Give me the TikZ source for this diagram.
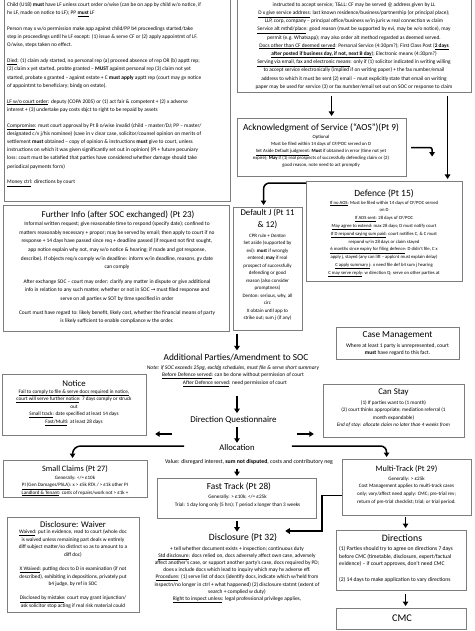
\documentclass[tikz,border=0pt]{standalone}
\usepackage{fontspec}
\setmainfont{Carlito}
\newfontfamily\dejavu{DejaVu Sans}
\usetikzlibrary{arrows.meta}
\definecolor{framegray}{RGB}{125,125,125}
\newcommand{\uln}[1]{\underline{#1}}
\newcommand{\fs}[2]{\fontsize{#1}{#2}\selectfont}
\begin{document}
\begin{tikzpicture}[x=1pt,y=-1pt,
  frame/.style={draw=framegray, line width=1.1pt, anchor=north west, inner sep=0pt},
  txt/.style={inner sep=0pt, align=center, anchor=north},
  txtl/.style={inner sep=0pt, align=left, anchor=north west},
  hd/.style={inner sep=0pt, anchor=center, font=\fs{8.8}{10}},
  arr/.style={line width=1.5pt, -{Triangle[length=4.5pt,width=5.5pt]}},
]
\useasboundingbox (0,0) rectangle (474,631);
\fill[white] (0,0) rectangle (474,631);
\coordinate (spine) at (237,0);

% ---------- frames ----------
\node[frame, minimum width=226pt, minimum height=203pt] (tl) at (4,-2) {};
\node[frame, minimum width=234pt, minimum height=94pt] (tr) at (237,-2) {};
\node[frame, minimum width=169pt, minimum height=58pt] (aos) at (237,118) {};
\node[frame, minimum width=156pt, minimum height=100pt] (defence) at (306,181) {};
\node[frame, minimum width=69pt, minimum height=123pt] (dj) at (233,207) {};
\node[frame, minimum width=226pt, minimum height=126pt] (fi) at (3,205) {};
\node[frame, minimum width=123pt, minimum height=32pt] (cm) at (336,327) {};
\node[frame, minimum width=144pt, minimum height=61pt] (notice) at (2,374) {};
\node[frame, minimum width=141pt, minimum height=53pt] (canstay) at (323,384) {};
\node[frame, minimum width=144pt, minimum height=37pt] (small) at (3,460) {};
\node[frame, minimum width=159pt, minimum height=40pt] (fast) at (157,478) {};
\node[frame, minimum width=129pt, minimum height=56pt] (multi) at (342,459) {};
\node[frame, minimum width=132pt, minimum height=95pt] (waiver) at (7,517) {};
\node[frame, minimum width=130pt, minimum height=60pt] (directions) at (336,530) {};
\node[frame, minimum width=130pt, minimum height=21pt] (cmc) at (336,608) {};

% ---------- top left ----------
\node[txtl, font=\fs{5.4}{8.2}] (tl-t) at (7,2.3) {%
Child (U18) \textbf{must} have LF unless court order o/wise (can be on app by child w/o notice, if\\
hv LF, made on notice to LF); PP \textbf{\uln{must}} LF\\[7.6pt]
Person may x w/o permission make app against child/PP b4 proceedings started/take\\
step in proceedings until hv LF except: (1) issue \& serve CF or (2) apply appointmt of LF.\\
O/wise, steps taken no effect.\\[7.6pt]
\uln{Died}: (1) claim ady started, no personal rep (a) proceed absence of rep OR (b) apptt rep;\\
(2) claim x yet started, probte granted -- \textbf{MUST} against personal rep (3) claim not yet\\
started, probate x granted -- against estate + C \textbf{must apply} apptt rep (court may gv notice\\
of appointmt to beneficiary; bindg on estate).\\[7.6pt]
\uln{LF w/o court order}: deputy (COPA 2005) or (1) act fair \& competent + (2) x adverse\\
interest + (3) undertake pay costs sbjct to right to be repaid by assets\\[7.6pt]
\uln{Compromise}: must court approval by Pt 8 o/wise invalid (child -- master/DJ; PP -- master/\\
designated c/v j/his nominee) (save in v clear case, solicitor/counsel opinion on merits of\\
settlement \textbf{must} obtained -- copy of opinion \& instructions \textbf{must} give to court, unless\\
instructions on which it was given significantly set out in opinion) (PI + future pecuniary\\
loss: court must be satisfied that parties have considered whether damage should take\\
periodical payments form)\\[7.6pt]
\uln{Money ctrl}: directions by court};

% ---------- top right ----------
\node[txt, font=\fs{5.35}{8.2}] (tr-t) at (354,2.3) {%
instructed to accept service; T\&LL: CF may be served @ address given by LL\\
\uln{D x give service address}: last known residence/business/partnership (or principal place);\\
LLP, corp, company -- principal office/business w/in juris w real connection w claim\\
\uln{Service alt mthd/place}: good reason (must be supported by evi, may be w/o notice), may\\
permit (e.g. Whatsapp); may also order alt method regarded as deemed served.\\
\uln{Docs other than CF deemed served}: Personal Service (4:30pm?); First Class Post (\textbf{\uln{2 days}}\\
\textbf{\uln{after posted if business day, if not, next B day}}); Electronic means (4:30pm?)\\
\uln{Serving via email, fax and electronic means}: only if (1) solicitor indicated in writing willing\\
to accept service electronically (implied if on writing paper) + the fax number/email\\
address to which it must be sent (2) email -- must explicitly state that email on writing\\
paper may be used for service (3) or fax number/email set out on SOC or response to claim};

% ---------- AOS ----------
\node[hd, font=\fs{9.3}{10}] (aos-h) at (321,128) {Acknowledgment of Service (``AOS'')(Pt 9)};
\node[txt, font=\fs{4.8}{7.2}] (aos-t) at (321,134.6) {%
Optional\\
Must be filed within 14 days of CF/POC served on D\\
\uln{Set Aside Default judgment}: \textbf{Must} if obtained in error (time not yet\\
expire); \textbf{May} if (1) real prospects of successfully defending claim or (2)\\
good reason, note need to act promptly};

% ---------- Defence ----------
\node[hd, font=\fs{9.5}{10}] (def-h) at (384,194) {Defence (Pt 15)};
\node[txt, font=\fs{4.7}{7.8}] (def-t) at (384,200.6) {%
\uln{If no AOS}: Must be filed within 14 days of CF/POC served\\
on D\\
\uln{If AOS sent}: 28 days of CF/POC\\
\uln{May agree to extend}: max 28 days; D must notify court\\
\uln{If D respond saying sum paid}: court notifies C, \& C must\\
respond w/in 28 days or claim stayed\\
\uln{6 months since expiry for filing defence}: D didn't file, C x\\
apply j, stayed (any can lift -- applcnt must explain delay)\\
\uln{C apply summary j}: x need file def b4 sum j hearing\\
\uln{C may serve reply}: w direction Q; serve on other parties at};

% ---------- Default J ----------
\node[txt, font=\fs{8.8}{12}] (dj-h) at (267.5,209) {Default J (Pt 11\\ \& 12)};
\node[txt, font=\fs{5}{7.5}] (dj-t) at (267.5,233.5) {%
CPR rule + \textit{Denton}\\
Set aside (supported by\\
evi): \textbf{must} if wrongly\\
entered; \textbf{may} if real\\
prospect of successfully\\
defending or good\\
reason (also consider\\
promptness)\\
Denton: serious, why, all\\
circ\\
X obtain until app to\\
strike out; sum j (if any)};

% ---------- Further info ----------
\node[hd, font=\fs{9}{10}] (fi-h) at (118,215) {Further Info (after SOC exchanged) (Pt 23)};
\node[txt, font=\fs{5.4}{8.6}] (fi-t) at (117,221.6) {%
Informal written request; give reasonable time to respond (specify date); confined to\\
matters reasonably necessary + propor; may be served by email; then apply to court if no\\
response + 14 days have passed since req + deadline passed (if request not first sought,\\
app notice explain why not, may w/o notice \& hearing; if made and got response,\\
describe). If objects req/x comply w/in deadline: inform w/in deadline, reasons, gv date\\
can comply\\[6pt]
After exchange SOC -- court may order: clarify any matter in dispute or give additional\\
info in relation to any such matter, whether or not in SOC {\dejavu →} must filed response and\\
serve on all parties w SOT by time specified in order\\[5pt]
Court must have regard to: likely benefit, likely cost, whether the financial means of party\\
is likely sufficient to enable compliance w the order.};

% ---------- Case management ----------
\node[hd, font=\fs{9.2}{10}] (cm-h) at (397.5,335) {Case Management};
\node[txt, font=\fs{5.5}{7}] (cm-t) at (397.5,343.3) {%
Where at least 1 party is unrepresented, court\\
\textbf{must} have regard to this fact.};

% ---------- Notice ----------
\node[hd] (no-h) at (74,383) {Notice};
\node[txt, font=\fs{5.2}{7.5}] (no-t) at (74,389.4) {%
\uln{Fail to comply to file \& serve docs required in notice,}\\
\uln{court will serve further notice}: 7 days comply or struck\\
out\\
\uln{Small track}: date specified at least 14 days\\
\uln{Fast/Multi}: at least 28 days};

% ---------- Can stay ----------
\node[hd] (cs-h) at (393.5,392) {Can Stay};
\node[txt, font=\fs{5.2}{7.5}] (cs-t) at (393.5,400.4) {%
(1) If parties want to (1 month)\\
(2) court thinks appropriate; mediation referral (1\\
month expandable)\\
\textit{End of stay: allocate claim no later than 4 weeks from}};

% ---------- centre column ----------
\node[hd, font=\fs{9.3}{10}] (ap) at (236,357) {Additional Parties/Amendment to SOC};
\node[inner sep=0pt, font=\fs{5.5}{7}] (apnote) at (233,368) {\textit{Note: if SOC exceeds 25pg, excldg schedules, must file \& serve short summary}};
\node[inner sep=0pt, font=\fs{5.4}{7}] (apbefore) at (233,376) {\uln{Before Defence served}: can be done without permission of court};
\node[inner sep=0pt, font=\fs{5.4}{7}] (apafter) at (235,383.5) {\uln{After Defence served}: need permission of court};
\node[hd, font=\fs{8.9}{10}] (dq) at (233.5,420) {Direction Questionnaire};
\node[hd, font=\fs{8.7}{10}] (alloc) at (237,448) {Allocation};
\node[inner sep=0pt, font=\fs{5.8}{7}] (value) at (249,462) {Value: disregard interest, \textbf{sum not disputed}, costs and contributory neg};

% ---------- Small claims ----------
\node[hd, font=\fs{8.2}{10}] (sc-h) at (75,469) {Small Claims (Pt 27)};
\node[txt, font=\fs{5}{7.5}] (sc-t) at (75,475.5) {%
Generally: </= £10k\\
\uln{PI (Gen Damages/PSLA)}: x > £5k RTA / > £1k other PI\\
\uln{Landlord \& Tenant}: costs of repairs/work not > £1k +};

% ---------- Fast track ----------
\node[hd, font=\fs{9.3}{10}] (ft-h) at (239,487) {Fast Track (Pt 28)};
\node[txt, font=\fs{5.2}{8}] (ft-t) at (237.5,494.4) {%
Generally: > £10k; </= £25k\\
Trial: 1 day long only (5 hrs); T period x longer than 3 weeks};

% ---------- Multi track ----------
\node[hd, font=\fs{8.2}{10}] (mt-h) at (406.5,469) {Multi-Track (Pt 29)};
\node[txt, font=\fs{5.1}{7.7}] (mt-t) at (406.5,476.5) {%
Generally: > £25k\\
Cost Management applies to multi-track cases\\
only; vary/affect need apply: CMC; pre-trial rev;\\
return of pre-trial checklist; trial; or trial period.};

% ---------- Waiver ----------
\node[hd, font=\fs{8.7}{10}] (wv-h) at (73,525) {Disclosure: Waiver};
\node[txt, font=\fs{5.3}{7.7}] (wv-t) at (73,529.4) {%
\uln{Waived}: put in evidence, read to court (whole doc\\
is waived unless remaining part deals w entirely\\
diff subject matter/so distinct so as to amount to a\\
diff doc)\\[6.3pt]
\uln{X Waived}: putting docs to D in examination (if not\\
described), exhibiting in depositions, privately put\\
b4 judge, by ref in SOC\\[6.3pt]
\uln{Disclosed by mistake}: court may grant injunction/\\
ask solicitor stop acting if real risk material could};

% ---------- Disclosure Pt 32 ----------
\node[hd, font=\fs{9.6}{10}] (disc) at (243,538) {Disclosure (Pt 32)};
\node[txt, font=\fs{5.4}{7.15}] (disc-t) at (237,546.3) {%
+ tell whether document exists + inspection; continuous duty\\
\uln{Std disclosure}: docs relied on, docs adversely affect own case, adversely\\
affect another's case, or support another party's case, docs required by PD;\\
does x include docs which lead to inquiry which may hv adverse eff.\\
\uln{Procedure}: (1) serve list of docs (identify docs, indicate which w/held from\\
inspectn/no longer in ctrl + what happened) (2) disclosure statmt (extent of\\
search + complied w duty)\\
\uln{Right to inspect unless}: legal professional privilege applies,};

% ---------- Directions / CMC ----------
\node[hd, font=\fs{9.8}{10}] (dir-h) at (402,538) {Directions};
\node[txtl, font=\fs{5.6}{7.5}] (dir-t) at (339,546.5) {%
(1) Parties should try to agree on directions 7 days\\
before CMC (timetable, disclosure, expert/factual\\
evidence) -- if court approves, don't need CMC\\[8.5pt]
(2) 14 days to make application to vary directions};
\node[hd, font=\fs{10.3}{11}] (cmc-h) at (402,618) {CMC};

% ---------- arrows ----------
\draw[arr] ([xshift=-23pt,yshift=-3pt]tr.south) -- ([xshift=-23pt,yshift=2pt]tr.south |- aos.north);
\draw[arr] ([xshift=93pt,yshift=-3pt]tr.south) -- ([xshift=93pt,yshift=2pt]tr.south |- defence.north);
\draw[arr, rounded corners=2pt] ([xshift=4pt]aos.east) -- ++(21,0) -- ++(0,9);
\draw[arr, rounded corners=6pt] ([yshift=-2pt]defence.north west) -| ([xshift=-4.5pt,yshift=2pt]dj.north);
\draw[arr] ([yshift=-3pt]dj.south -| spine) -- ([yshift=3pt]ap.north -| spine);
\draw[arr] ([yshift=-9pt]apafter.south -| spine) -- ([yshift=3pt]dq.north -| spine);
\draw[arr] ([yshift=-3pt]dq.south -| spine) -- ([yshift=2pt]alloc.north -| spine);
\draw[arr] ([xshift=-18pt,yshift=-14pt]dq.west) -- ++(-17,0);
\draw[arr] ([xshift=20pt,yshift=-14pt]dq.east) -- ++(17,0);
\draw[arr, rounded corners=8pt] ([xshift=-35pt,yshift=2pt]alloc.west) -| ([xshift=-3pt,yshift=2pt]small.north);
\draw[arr, rounded corners=6pt] ([xshift=37pt,yshift=2pt]alloc.east) -| ([xshift=-20.5pt,yshift=2pt]multi.north);
\draw[arr] ([yshift=-4pt]value.south -| spine) -- ([yshift=2pt]fast.north -| spine);
\draw[arr] ([yshift=-2pt]fast.south -| spine) -- ([yshift=2pt]disc.north -| spine);
\draw[arr] ([yshift=-8pt]multi.west) -- ++(-20,0) |- ([xshift=8pt,yshift=7pt]disc.east);
\draw[arr] ([xshift=-1.5pt,yshift=-1pt]multi.south) -- ([xshift=-1.5pt,yshift=2pt]multi.south |- directions.north);
\draw[arr] ([xshift=4pt,yshift=-3pt]directions.south) -- ([xshift=4pt,yshift=2pt]directions.south |- cmc.north);
\end{tikzpicture}
\end{document}
